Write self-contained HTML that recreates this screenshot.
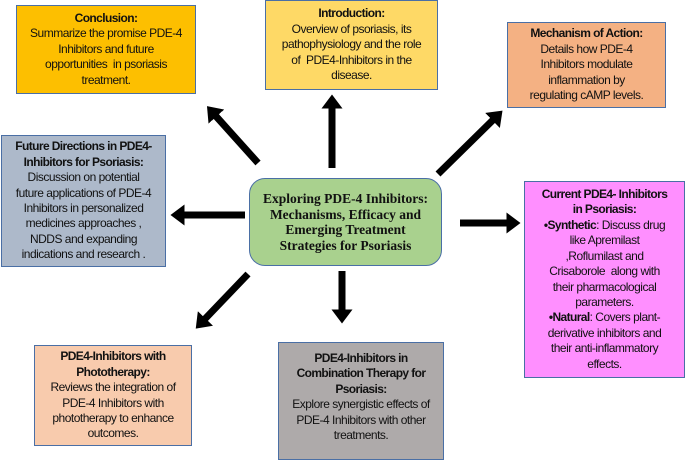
<!DOCTYPE html>
<html><head><meta charset="utf-8"><style>
body{margin:0;width:685px;height:457px;background:#fff;position:relative;overflow:hidden;font-family:"Liberation Sans",sans-serif;}
.b{position:absolute;box-sizing:border-box;border:1.5px solid #4a6fa5;text-align:center;font-size:12px;line-height:15.4px;color:#111;display:flex;flex-direction:column;justify-content:center;letter-spacing:-0.5px;white-space:nowrap;overflow:visible}
.b b{font-weight:bold;letter-spacing:-0.6px}
svg{position:absolute;left:0;top:0}
</style></head><body>
<div class="b" style="left:16px;top:5px;width:180px;height:89px;background:#fdbf00;"><div><b>Conclusion:</b><br>Summarize the promise PDE-4<br>Inhibitors and future<br>opportunities &nbsp;in psoriasis<br>treatment.</div></div>
<div class="b" style="left:265px;top:0;width:173px;height:90px;background:#fed966;"><div><b>Introduction:</b><br>Overview of psoriasis, its<br>pathophysiology and the role<br>of &nbsp;PDE4-Inhibitors in the<br>disease.</div></div>
<div class="b" style="left:507px;top:22px;width:159px;height:86px;background:#f4b183;"><div><b>Mechanism of Action:</b><br>Details how PDE-4<br>Inhibitors modulate<br>inflammation by<br>regulating cAMP levels.</div></div>
<div class="b" style="left:1px;top:135px;width:165px;height:132px;background:#adb9ca;"><div><b>Future Directions in PDE4-<br>Inhibitors for Psoriasis:</b><br>Discussion on potential<br>future applications of PDE-4<br>Inhibitors in personalized<br>medicines approaches ,<br>NDDS and expanding<br>indications and research .</div></div>
<div class="b" style="left:249px;top:178px;width:193px;height:88px;background:#a9d18e;border-radius:16px;font-family:'Liberation Serif',serif;font-weight:bold;font-size:13.5px;line-height:15.5px;letter-spacing:0">Exploring PDE-4 Inhibitors:<br>Mechanisms, Efficacy and<br>Emerging Treatment<br>Strategies for Psoriasis</div>
<div class="b" style="left:524px;top:181px;width:161px;height:197px;background:#ff8fff;"><div><b>Current PDE4- Inhibitors<br>in Psoriasis:</b><br><b>•Synthetic</b>: Discuss drug<br>like Apremilast<br>,Roflumilast and<br>Crisaborole &nbsp;along with<br>their pharmacological<br>parameters.<br><b>•Natural</b>: Covers plant-<br>derivative inhibitors and<br>their anti-inflammatory<br>effects.</div></div>
<div class="b" style="left:34px;top:345px;width:158px;height:101px;background:#f8cbad;"><div><b>PDE4-Inhibitors with<br>Phototherapy:</b><br>Reviews the integration of<br>PDE-4 Inhibitors with<br>phototherapy to enhance<br>outcomes.</div></div>
<div class="b" style="left:278px;top:342px;width:166px;height:118px;background:#aeaaaa;justify-content:flex-start;padding-top:8px"><div><b>PDE4-Inhibitors in<br>Combination Therapy for<br>Psoriasis:</b><br>Explore synergistic effects of<br>PDE-4 Inhibitors with other<br>treatments.</div></div>
<svg width="685" height="457">
<defs><marker id="h" markerWidth="3" markerHeight="3" refX="0.5" refY="1.5" orient="auto" markerUnits="strokeWidth"><path d="M0,0 L2,1.5 L0,3z" fill="#000"/></marker></defs>
<g stroke="#000" stroke-width="7" marker-end="url(#h)">
<line x1="332" y1="168" x2="332" y2="105"/>
<line x1="258" y1="163" x2="214" y2="114"/>
<line x1="438" y1="174" x2="495" y2="118"/>
<line x1="245" y1="215" x2="181" y2="215"/>
<line x1="460" y1="223" x2="510" y2="223"/>
<line x1="342" y1="271" x2="342" y2="313"/>
<line x1="248" y1="274" x2="203" y2="321"/>
</g></svg>
</body></html>
